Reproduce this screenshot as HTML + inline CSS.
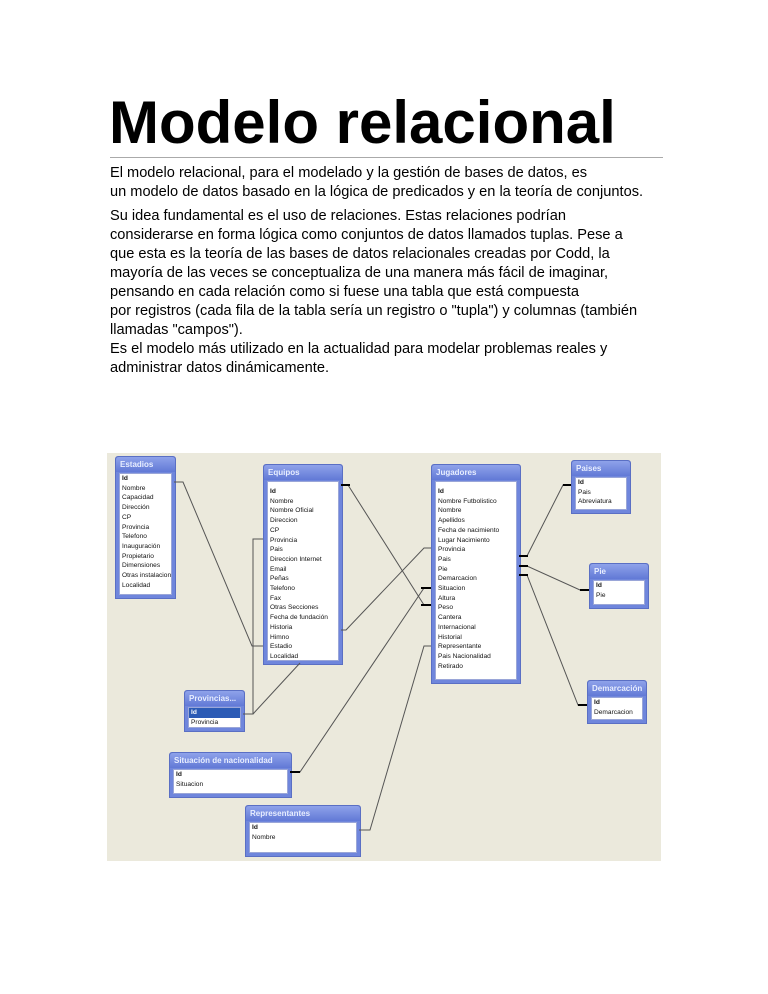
<!DOCTYPE html>
<html><head><meta charset="utf-8"><style>
body{margin:0;width:768px;height:994px;background:#fff;position:relative;font-family:"Liberation Sans",sans-serif;overflow:hidden}
h1{position:absolute;left:109px;top:88px;margin:0;font-size:60px;font-weight:bold;color:#000;letter-spacing:0}
.hr{position:absolute;left:110px;top:157px;width:553px;height:1px;background:#aaa}
.p{position:absolute;left:110px;font-size:14.6px;line-height:19px;color:#000;width:560px}
.dg{position:absolute;left:107px;top:453px;width:554px;height:408px;background:#ebe9dc}
.t{position:absolute;background:#6f86dc;border:1px solid #5a6fc4;border-radius:3px 3px 0 0}
.t .h{height:15px;color:#e8eeff;font-size:8px;font-weight:bold;padding:3px 0 0 4px;box-sizing:border-box;background:linear-gradient(#8ea2ea,#6179d6);border-radius:3px 3px 0 0}
.t .b{position:absolute;left:3px;right:3px;top:16px;bottom:3px;background:#fff;border:1px solid #9aa6d8}
.t .r{font-size:6.6px;line-height:9.7px;padding-left:2px;white-space:nowrap;overflow:hidden;color:#111}
.t .r:first-child{font-weight:bold}
svg{position:absolute;left:0;top:0}
</style></head><body>
<h1>Modelo relacional</h1>
<div class="hr"></div>
<div class="p" style="top:164px">El modelo relacional, para el modelado y la gestión de bases de datos, es<br>un modelo de datos basado en la lógica de predicados y en la teoría de conjuntos.</div>
<div class="p" style="top:207px">Su idea fundamental es el uso de relaciones. Estas relaciones podrían<br>considerarse en forma lógica como conjuntos de datos llamados tuplas. Pese a<br>que esta es la teoría de las bases de datos relacionales creadas por Codd, la<br>mayoría de las veces se conceptualiza de una manera más fácil de imaginar,<br>pensando en cada relación como si fuese una tabla que está compuesta<br>por registros (cada fila de la tabla sería un registro o "tupla") y columnas (también<br>llamadas "campos").</div>
<div class="p" style="top:340px">Es el modelo más utilizado en la actualidad para modelar problemas reales y<br>administrar datos dinámicamente.</div>
<div class="dg"></div>

<div class="t" style="left:115px;top:456px;width:59px;height:141px"><div class="h">Estadios</div><div class="b">
<div class="r">Id</div><div class="r">Nombre</div><div class="r">Capacidad</div><div class="r">Dirección</div><div class="r">CP</div><div class="r">Provincia</div><div class="r">Telefono</div><div class="r">Inauguración</div><div class="r">Propietario</div><div class="r">Dimensiones</div><div class="r">Otras instalaciones</div><div class="r">Localidad</div></div></div>

<div class="t" style="left:263px;top:464px;width:78px;height:199px"><div class="h">Equipos</div><div class="b" style="padding-top:5px">
<div class="r">Id</div><div class="r">Nombre</div><div class="r">Nombre Oficial</div><div class="r">Direccion</div><div class="r">CP</div><div class="r">Provincia</div><div class="r">Pais</div><div class="r">Direccion Internet</div><div class="r">Email</div><div class="r">Peñas</div><div class="r">Telefono</div><div class="r">Fax</div><div class="r">Otras Secciones</div><div class="r">Fecha de fundación</div><div class="r">Historia</div><div class="r">Himno</div><div class="r">Estadio</div><div class="r">Localidad</div></div></div>

<div class="t" style="left:431px;top:464px;width:88px;height:218px"><div class="h">Jugadores</div><div class="b" style="padding-top:5px">
<div class="r">Id</div><div class="r">Nombre Futbolistico</div><div class="r">Nombre</div><div class="r">Apellidos</div><div class="r">Fecha de nacimiento</div><div class="r">Lugar Nacimiento</div><div class="r">Provincia</div><div class="r">Pais</div><div class="r">Pie</div><div class="r">Demarcacion</div><div class="r">Situacion</div><div class="r">Altura</div><div class="r">Peso</div><div class="r">Cantera</div><div class="r">Internacional</div><div class="r">Historial</div><div class="r">Representante</div><div class="r">Pais Nacionalidad</div><div class="r">Retirado</div></div></div>

<div class="t" style="left:571px;top:460px;width:58px;height:52px"><div class="h">Paises</div><div class="b">
<div class="r">Id</div><div class="r">Pais</div><div class="r">Abreviatura</div></div></div>

<div class="t" style="left:589px;top:563px;width:58px;height:44px"><div class="h">Pie</div><div class="b">
<div class="r">Id</div><div class="r">Pie</div></div></div>

<div class="t" style="left:587px;top:680px;width:58px;height:42px"><div class="h">Demarcación</div><div class="b">
<div class="r">Id</div><div class="r">Demarcacion</div></div></div>

<div class="t" style="left:184px;top:690px;width:59px;height:40px"><div class="h">Provincias...</div><div class="b">
<div class="r" style="background:#2c5bb5;color:#fff">Id</div><div class="r">Provincia</div></div></div>

<div class="t" style="left:169px;top:752px;width:121px;height:44px"><div class="h">Situación de nacionalidad</div><div class="b">
<div class="r">Id</div><div class="r">Situacion</div></div></div>

<div class="t" style="left:245px;top:805px;width:114px;height:50px"><div class="h">Representantes</div><div class="b">
<div class="r">Id</div><div class="r">Nombre</div></div></div>

<svg width="768" height="994" fill="none" stroke="#555" stroke-width="1">
<polyline points="174,482 183,482 252,646 263,646"/>
<polyline points="263,539 253,539 253,714 243,714"/>
<polyline points="300,663 253,714"/>
<polyline points="341,485 348,485 424,605 431,605"/>
<polyline points="341,630 346,630 424,548 431,548"/>
<polyline points="290,772 300,772 424,588 431,588"/>
<polyline points="359,830 370,830 424,646 431,646"/>
<polyline points="519,556 527,556 563,485 571,485"/>
<polyline points="519,566 527,566 580,590 589,590"/>
<polyline points="519,575 527,575 578,705 587,705"/>
<g stroke="#000" stroke-width="2">
<line x1="341" y1="485" x2="350" y2="485"/><line x1="563" y1="485" x2="571" y2="485"/>
<line x1="580" y1="590" x2="589" y2="590"/><line x1="578" y1="705" x2="587" y2="705"/>
<line x1="290" y1="772" x2="300" y2="772"/>
<line x1="519" y1="556" x2="528" y2="556"/><line x1="519" y1="566" x2="528" y2="566"/><line x1="519" y1="575" x2="528" y2="575"/>
<line x1="421" y1="588" x2="431" y2="588"/><line x1="421" y1="605" x2="431" y2="605"/>
</g>
</svg>
</body></html>
